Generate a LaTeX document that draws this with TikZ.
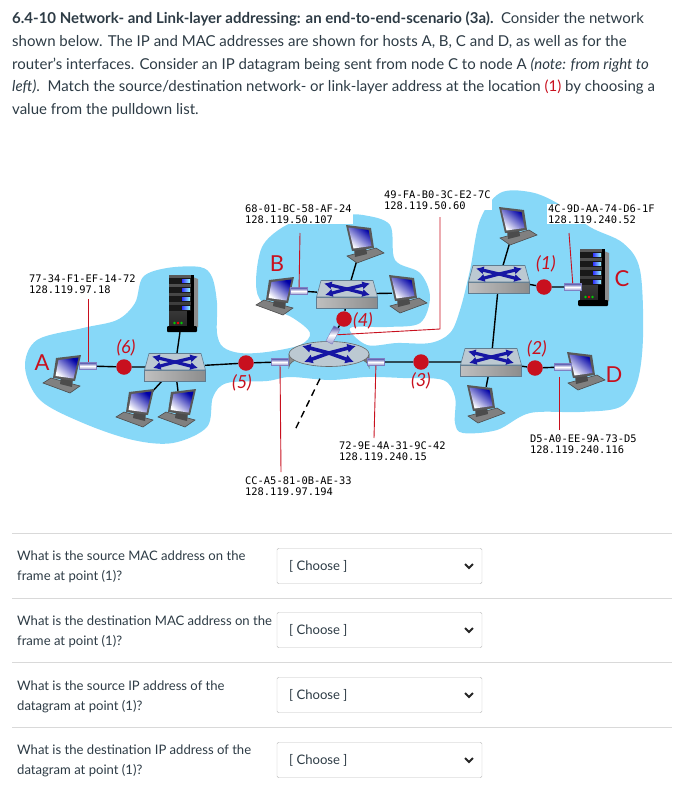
\documentclass[tikz,border=0pt]{standalone}
\usepackage{fontspec}
\setmainfont{Lato}
\newfontfamily\addrfont{DejaVu Sans Mono}
\usetikzlibrary{calc, shapes, backgrounds, arrows.meta}
\definecolor{cloudblue}{HTML}{87D8F8}
\definecolor{markred}{HTML}{C8101E}
\definecolor{pagetext}{HTML}{2D3B45}
\definecolor{arrowblue}{HTML}{1616A4}
\definecolor{plategray}{HTML}{BCC9D2}
\definecolor{edgegray}{HTML}{5F7C90}
\definecolor{ifblue}{HTML}{4A4AA8}
\tikzset{
  crossarrow/.style={arrowblue, line width=#1, -{Latex[length=2.4*#1,width=2.6*#1]}},
  pcbox/.pic={
    \draw[black!70, fill=black!50, line width=0.6pt] (15,13) -- (-14,5) -- (-22,10) -- (5,20) -- cycle;
    \fill[black!70] (-4,4) -- (8,6) -- (7,14) -- (-5,11) -- cycle;
    \fill[black!65] (16,-18) -- (-9,-15) -- (-12,5) -- (10,8) -- cycle;
    \shade[top color=blue!65!black, bottom color=white, shading angle=-40]
      (13.5,-15.5) -- (-6.5,-13) -- (-9.5,3) -- (8.5,5.5) -- cycle;
  },
  swbox/.pic={
    \shade[left color=black!25, middle color=white, right color=black!45, draw=edgegray, line width=0.6pt]
      (-30.5,3) rectangle (30.5,14);
    \draw[fill=plategray, draw=edgegray, line width=0.6pt] (-30.5,3) -- (-26,-13.5) -- (26,-13.5) -- (30.5,3) -- cycle;
    \draw[crossarrow=3.2pt] (0,-5) -- (-23,-10.5);
    \draw[crossarrow=3.2pt] (0,-5) -- (23,-10.5);
    \draw[crossarrow=3.2pt] (0,-5) -- (-22,1);
    \draw[crossarrow=3.2pt] (0,-5) -- (23,1);
  },
  routerbox/.pic={
    \shade[left color=black!45, middle color=white, right color=black!55, draw=black!60, line width=0.6pt]
      (-40,-6) -- (-40,7) arc[start angle=180, end angle=360, x radius=40, y radius=13] -- (40,-6) -- cycle;
    \draw[fill=plategray, draw=black!60, line width=0.6pt] (0,-6) ellipse[x radius=40, y radius=12.5];
    \draw[crossarrow=3.6pt] (0,-7) -- (-27,-14);
    \draw[crossarrow=3.6pt] (0,-7) -- (27,-14);
    \draw[crossarrow=3.6pt] (0,-7) -- (-25,2);
    \draw[crossarrow=3.6pt] (0,-7) -- (25,2);
  },
  serverbox/.pic={
    \fill[black!45] (9,-27) -- (14,-25) -- (14,23) -- (9,25) -- cycle;
    \shade[top color=black!65, bottom color=black!85] (-15,-29) rectangle (9,24);
    \fill[black] (7,-29) rectangle (10,24);
    \fill[black] (3,4) rectangle (7,24);
    \fill[black, rounded corners=1] (-17,22) rectangle (13,28);
    \foreach \y in {-26,-17,-8,1}{
      \fill[black!90] (-15,\y) rectangle (7,\y+5.5);
      \shade[left color=blue!80, right color=cyan!40] (-2,\y+1.5) rectangle (6,\y+4);
    }
    \fill[green!80!black] (-9.5,19) circle (1.3);
    \fill[red] (-6,19) circle (1.3);
    \fill[green!80!black] (-2.5,19) circle (1.3);
  },
  pcspot/.style={minimum width=26, minimum height=32, inner sep=0},
  swspot/.style={minimum width=60, minimum height=26, inner sep=0},
  serverspot/.style={minimum width=28, minimum height=56, inner sep=0},
  routerspot/.style={ellipse, minimum width=80, minimum height=38, inner sep=0},
  ifbox/.style={rectangle, minimum width=17, minimum height=7, inner sep=0, draw=ifblue!70, line width=0.4pt,
    top color=ifblue, bottom color=ifblue!60, middle color=white},
  reddot/.style={circle, fill=markred, minimum size=15.5, inner sep=0},
  addr/.style={font=\addrfont\fontsize{10.4}{10.5}\selectfont, align=left, anchor=west, inner sep=1, fill=white},
  hostname/.style={font=\fontsize{22}{22}\selectfont, text=markred, inner sep=0},
  pointlabel/.style={font=\itshape\fontsize{18}{18}\selectfont, text=markred, inner sep=0},
  leader/.style={markred, line width=0.9pt},
  link/.style={black, line width=1.4pt},
  question/.style={font=\fontsize{13.1}{19.6}\selectfont, text=pagetext, align=left, anchor=west, inner sep=0},
  selectbox/.style={rectangle, rounded corners=1.5, draw=black!25, fill=white, minimum width=205, minimum height=35.5, inner sep=0},
  rowline/.style={black!15, line width=0.8pt}
}
\begin{document}
\begin{tikzpicture}[x=1pt, y=-1pt]
  \useasboundingbox (0,0) rectangle (674,795);
  \node[font=\fontsize{15}{22.6}\selectfont, text=pagetext, align=left, anchor=north west, inner sep=0] (task) at (12,12)
    {\textbf{6.4-10 Network- and Link-layer addressing: an end-to-end-scenario (3a).}\ \ Consider the network\\
     shown below. The IP and MAC addresses are shown for hosts A, B, C and D, as well as for the\\
     router's interfaces. Consider an IP datagram being sent from node C to node A \textit{(note: from right to}\\
     \textit{left)}.\ \ Match the source/destination network- or link-layer address at the location {\color{markred}(1)} by choosing a\\
     value from the pulldown list.};

  % devices
  \foreach \n/\x/\y in {pcA/65/373, pcAa/138/407, pcAb/180/407, pcB/278/295}{
    \node[pcspot] (\n) at (\x,\y) {};
    \pic at (\n) {pcbox};
  }
  \foreach \n/\x/\y in {pcBa/362/243, pcBb/405/293, pcCa/515/225, pcD/583/370, pcDa/483/403}{
    \node[pcspot] (\n) at (\x,\y) {};
    \pic[xscale=-1] at (\n) {pcbox};
  }
  \foreach \n/\x/\y in {swA/175/367, swB/347/294, swC/499/279, swD/491/362}{
    \node[swspot] (\n) at (\x,\y) {};
    \pic at (\n) {swbox};
  }
  \foreach \n/\x/\y in {srvA/184/304, srvC/595/278}{
    \node[serverspot] (\n) at (\x,\y) {};
    \pic at (\n) {serverbox};
  }
  \node[routerspot] (router) at (329,360) {};
  \pic at (router) {routerbox};

  % interfaces and points
  \node[ifbox] (ifA) at (88,366) {};
  \node[ifbox] (ifB) at (299,291) {};
  \node[ifbox] (ifC) at (573,287) {};
  \node[ifbox] (ifD) at (563,367) {};
  \node[ifbox] (ifRa) at (280,362) {};
  \node[ifbox] (ifRb) at (376,362) {};
  \node[ifbox, rotate=62] (ifRc) at (333,335) {};
  \node[reddot] (dotF) at (124,367) {};
  \node[reddot] (dotE) at (246,363) {};
  \node[reddot] (dotD) at (344,319) {};
  \node[reddot] (dotC) at (421,362) {};
  \node[reddot] (dotB) at (535,368) {};
  \node[reddot] (dotA) at (544,287) {};
  \coordinate (dashend) at (295,430);

  \begin{scope}[on background layer]
    \fill[cloudblue] plot[smooth cycle, tension=0.55] coordinates {
      (25,367) (37,340) (83,328) (117,320) (135,303) (143,277) (167,268) (200,267) (212,277)
      (217,303) (217,333) (223,347) (240,353) (267,352) (300,345) (310,333) (293,318) (263,303)
      (256,283) (262,247) (283,227) (310,217) (340,215) (363,215) (390,225) (395,260) (420,273)
      (430,297) (420,323) (387,327) (350,328) (367,345) (397,343) (430,343) (450,333) (460,310)
      (470,270) (480,220) (500,193) (530,192) (557,203) (590,227) (623,243) (640,270) (643,337)
      (637,383) (620,407) (580,412) (530,413) (497,430) (463,433) (455,423) (455,397) (443,380)
      (403,378) (367,377) (330,380) (290,377) (267,381) (227,383) (213,397) (207,427) (173,443)
      (133,440) (83,423) (40,400)};
    \draw[link] (ifA) -- (dotF) -- (swA) -- (dotE) -- (ifRa) -- (router);
    \draw[link] (swA) -- (srvA);
    \draw[link] (swA) -- (pcAa);
    \draw[link] (swA) -- (pcAb);
    \draw[link] (ifB) -- (swB);
    \draw[link] (swB) -- (pcBa);
    \draw[link] (swB) -- (pcBb);
    \draw[link] (ifRc) -- (dotD) -- (swB);
    \draw[link] (router) -- (ifRb) -- (dotC) -- (swD);
    \draw[link] (swD) -- (swC);
    \draw[link] (swC) -- (pcCa);
    \draw[link] (swC) -- (dotA) -- (ifC) -- (srvC);
    \draw[link] (swD) -- (dotB) -- (ifD) -- (pcD);
    \draw[link] (swD) -- (pcDa);
    \draw[link, dashed, dash pattern=on 7pt off 5pt] (router) -- (dashend);
  \end{scope}

  % address lines
  \node[addr] (addrA) at (28,284) {77-34-F1-EF-14-72\\128.119.97.18};
  \node[addr] (addrB) at (244,214) {68-01-BC-58-AF-24\\128.119.50.107};
  \node[addr] (addrRc) at (383,200) {49-FA-B0-3C-E2-7C\\128.119.50.60};
  \node[addr] (addrC) at (547,214) {4C-9D-AA-74-D6-1F\\128.119.240.52};
  \node[addr] (addrRb) at (338,451) {72-9E-4A-31-9C-42\\128.119.240.15};
  \node[addr] (addrD) at (529,444) {D5-A0-EE-9A-73-D5\\128.119.240.116};
  \node[addr] (addrRa) at (244,486) {CC-A5-81-0B-AE-33\\128.119.97.194};
  \coordinate (legA) at (88,299);
  \coordinate (legB) at (300,233);
  \coordinate (legC) at (569,233);
  \coordinate (legD) at (559,430);
  \coordinate (legDa) at (559,377);
  \coordinate (legRa) at (281,472);
  \coordinate (legRb) at (374,438);
  \coordinate (legRc) at (440,217);
  \coordinate (legRd) at (440,329);
  \draw[leader] (legA) -- (ifA);
  \draw[leader] (legB) -- (ifB);
  \draw[leader] (legC) -- (ifC);
  \draw[leader] (legD) -- (legDa);
  \draw[leader] (legRa) -- (ifRa);
  \draw[leader] (legRb) -- (ifRb);
  \draw[leader] (legRc) -- (legRd) -- (ifRc);

  \node[hostname] (nameA) at (42,363) {A};
  \node[hostname] (nameB) at (277,264) {B};
  \node[hostname] (nameC) at (622,279) {C};
  \node[hostname] (nameD) at (614,375) {D};
  \node[pointlabel] (markF) at (126,348) {(6)};
  \node[pointlabel] (markE) at (242,383) {(5)};
  \node[pointlabel] (markD) at (363,321) {(4)};
  \node[pointlabel] (markC) at (421,381) {(3)};
  \node[pointlabel] (markB) at (537,349) {(2)};
  \node[pointlabel] (markA) at (546,264) {(1)};

  % answer rows
  \foreach \n/\y in {a/533, b/598, c/662, d/727}{
    \coordinate (rowl\n) at (12,\y);
    \coordinate (rowr\n) at (672,\y);
    \draw[rowline] (rowl\n) -- (rowr\n);
  }
  \node[question] (qa) at (17,567) {What is the source MAC address on the\\frame at point (1)?};
  \node[question] (qb) at (17,632) {What is the destination MAC address on the\\frame at point (1)?};
  \node[question] (qc) at (17,697) {What is the source IP address of the\\datagram at point (1)?};
  \node[question] (qd) at (17,761) {What is the destination IP address of the\\datagram at point (1)?};
  \foreach \n/\y in {a/566, b/630, c/695, d/760}{
    \node[selectbox] (sel\n) at (379.5,\y) {};
    \node[question] (cho\n) at (289,\y) {[ Choose ]};
    \coordinate (chev\n) at (469,\y);
    \draw[black!85, line width=1.8pt] ($(chev\n)+(-4,-2)$) -- ($(chev\n)+(0,2)$) -- ($(chev\n)+(4,-2)$);
  }
\end{tikzpicture}
\end{document}
